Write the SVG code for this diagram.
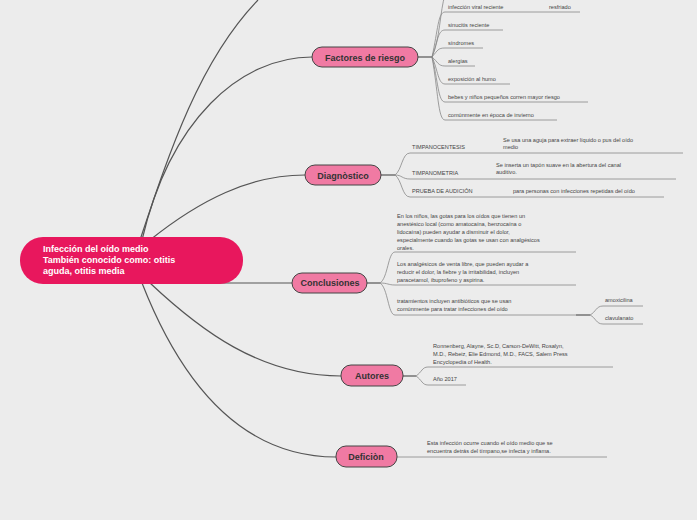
<svg xmlns="http://www.w3.org/2000/svg" width="697" height="520" viewBox="0 0 697 520">
<style>
.c{fill:none;stroke:#555;stroke-width:1.2}
.u{fill:none;stroke:#888;stroke-width:0.8}
.n{fill:#f07aa3;stroke:#444;stroke-width:1}
.nt{font-family:"Liberation Sans",Arial,sans-serif;font-size:9px;font-weight:bold;fill:#333;text-anchor:middle}
.t{font-family:"Liberation Sans",Arial,sans-serif;font-size:5.6px;fill:#444}
</style>
<rect width="697" height="520" fill="#ececec"/>
<g id="connectors">
<path class="c" d="M140 240 C170 150 200 60 258 0"/>
<path class="c" d="M142 240 C170 120 240 57 312 57"/>
<path class="c" d="M150 240 C200 200 250 175 305 175"/>
<path class="c" d="M200 283 C250 283 270 283 292 283"/>
<path class="c" d="M150 283 C200 330 260 376 341 376"/>
<path class="c" d="M142 283 C180 380 240 457 336 457"/>
<path class="c" d="M418 57 L432 57"/>
<path class="u" d="M432 57 C440 40 440 10 445 -5"/>
<path class="u" d="M432 57 C438 30 438 12 445 12 L580 12"/>
<path class="u" d="M432 57 C438 40 438 30 445 30 L503 30"/>
<path class="u" d="M432 57 C438 50 438 48 445 48 L483 48"/>
<path class="u" d="M432 57 C438 62 438 66 445 66 L475 66"/>
<path class="u" d="M432 57 C438 70 438 84 445 84 L510 84"/>
<path class="u" d="M432 57 C438 80 438 102 445 102 L588 102"/>
<path class="u" d="M432 57 C438 90 438 120 445 120 L557 120"/>
<path class="c" d="M381 175 L395 175"/>
<path class="u" d="M395 175 C402 170 402 153 410 153 L683 153"/>
<path class="u" d="M395 175 C402 175 402 179 410 179 L676 179"/>
<path class="u" d="M395 175 C402 180 402 197 410 197 L664 197"/>
<path class="c" d="M367 283 L380 283"/>
<path class="u" d="M380 283 C388 278 388 252 395 252 L576 252"/>
<path class="u" d="M380 283 C388 283 388 285 395 285 L576 285"/>
<path class="u" d="M380 283 C388 288 388 315 395 315 L576 315"/>
<path class="c" d="M576 315 L590 315"/>
<path class="u" d="M590 315 C596 312 596 306 603 306 L643 306"/>
<path class="u" d="M590 315 C596 318 596 324 603 324 L643 324"/>
<path class="c" d="M403 376 L416 376"/>
<path class="u" d="M416 376 C422 372 422 367 428 367 L613 367"/>
<path class="u" d="M416 376 C422 380 422 385 428 385 L466 385"/>
<path class="u" d="M397 457 L607 457"/>
</g>
<g id="root"><rect x="20" y="237" width="223" height="47" rx="23" fill="#e8175d"/>
<text font-family="Liberation Sans,Arial,sans-serif" font-size="9" font-weight="bold" fill="#fff"><tspan x="43" y="252">Infección del oído medio</tspan><tspan x="43" y="263">También conocido como: otitis</tspan><tspan x="43" y="274">aguda, otitis media</tspan></text></g>
<g id="factores"><rect class="n" x="312" y="47" width="106" height="20" rx="10"/><text class="nt" x="365" y="61">Factores de riesgo</text>
<text class="t"><tspan x="448" y="9">infección viral reciente</tspan><tspan x="549" y="9">resfriado</tspan><tspan x="448" y="27">sinucitis reciente</tspan><tspan x="448" y="45">síndromes</tspan><tspan x="448" y="63">alergias</tspan><tspan x="448" y="81">exposición al humo</tspan><tspan x="448" y="99">bebes y niños pequeños corren mayor riesgo</tspan><tspan x="448" y="117">comúnmente en época de invierno</tspan></text></g>
<g id="diagnostico"><rect class="n" x="305" y="165" width="76" height="20" rx="10"/><text class="nt" x="343" y="179">Diagnòstico</text>
<text class="t"><tspan x="412" y="149">TIMPANOCENTESIS</tspan><tspan x="503" y="142">Se usa una aguja para extraer líquido o pus del oído</tspan><tspan x="503" y="149">medio</tspan><tspan x="412" y="175">TIMPANOMETRIA</tspan><tspan x="496" y="167">Se inserta un tapón suave en la abertura del canal</tspan><tspan x="496" y="174">auditivo.</tspan><tspan x="412" y="193">PRUEBA DE AUDICIÓN</tspan><tspan x="513" y="193">para personas con infecciones repetidas del oído</tspan></text></g>
<g id="conclusiones"><rect class="n" x="292" y="273" width="75" height="20" rx="10"/><text class="nt" x="330" y="286" font-size="7.5">Conclusiones</text>
<text class="t"><tspan x="397" y="218">En los niños, las gotas para los oídos que tienen un</tspan><tspan x="397" y="226">anestésico local (como amatocaína, benzocaína o</tspan><tspan x="397" y="234">lidocaína) pueden ayudar a disminuir el dolor,</tspan><tspan x="397" y="242">especialmente cuando las gotas se usan con analgésicos</tspan><tspan x="397" y="250">orales.</tspan><tspan x="397" y="266">Los analgésicos de venta libre, que pueden ayudar a</tspan><tspan x="397" y="274">reducir el dolor, la fiebre y la irritabilidad, incluyen</tspan><tspan x="397" y="282">paracetamol, ibuprofeno y aspirina.</tspan><tspan x="397" y="303">tratamientos incluyen antibióticos que se usan</tspan><tspan x="397" y="311">comúnmente para tratar infecciones del oído</tspan><tspan x="605" y="302">amoxicilina</tspan><tspan x="605" y="320">clavulanato</tspan></text></g>
<g id="autores"><rect class="n" x="341" y="365" width="62" height="21" rx="10"/><text class="nt" x="372" y="379">Autores</text>
<text class="t"><tspan x="433" y="348">Ronnenberg, Alayne, Sc.D, Carson-DeWitt, Rosalyn,</tspan><tspan x="433" y="356">M.D., Rebeiz, Elie Edmond, M.D., FACS, Salem Press</tspan><tspan x="433" y="364">Encyclopedia of Health.</tspan><tspan x="433" y="381">Año 2017</tspan></text></g>
<g id="deficion"><rect class="n" x="336" y="446" width="61" height="21" rx="10"/><text class="nt" x="366" y="460">Deficiòn</text>
<text class="t"><tspan x="427" y="445">Esta infección ocurre cuando el oído medio que se</tspan><tspan x="427" y="453">encuentra detrás del tímpano,se infecta y inflama.</tspan></text></g>
</svg>
